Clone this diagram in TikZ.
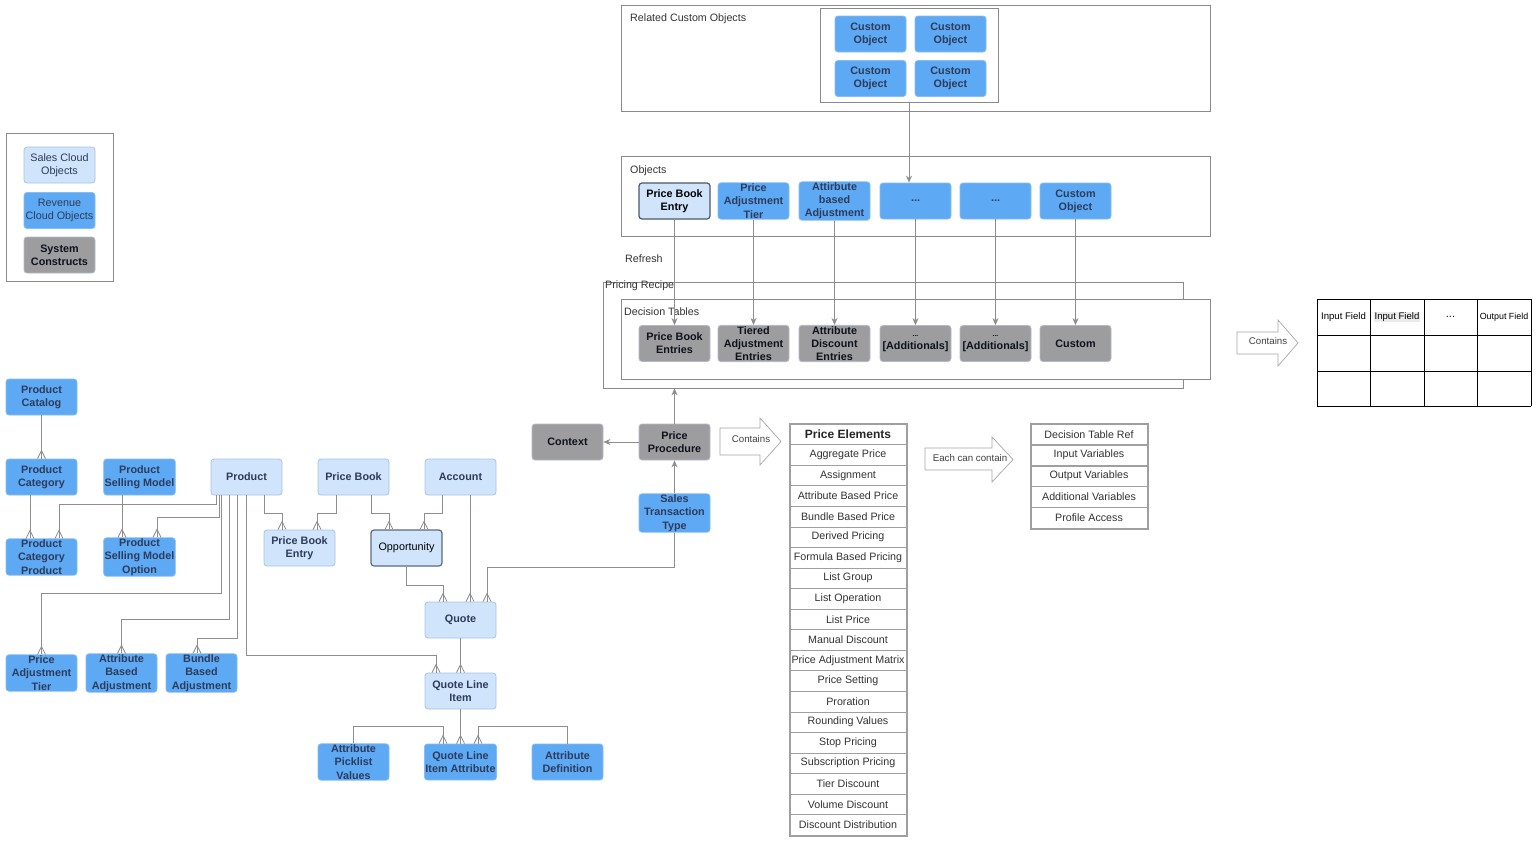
\documentclass[tikz,border=0pt]{standalone}
\usepackage{fontspec}
\setmainfont{Liberation Sans}
\usetikzlibrary{arrows.meta,positioning}

\definecolor{sclight}{HTML}{D0E4FB}
\definecolor{scedge}{HTML}{A6C4E8}
\definecolor{rcblue}{HTML}{5DA9F4}
\definecolor{rcedge}{HTML}{86BDF4}
\definecolor{sysgray}{HTML}{9D9D9F}
\definecolor{sysedge}{HTML}{B3BAC6}
\definecolor{boxtext}{HTML}{2E3B5B}
\definecolor{linegray}{HTML}{8E8E8E}
\definecolor{framegray}{HTML}{8A8A8A}

\tikzset{
  obj/.style={rounded corners=3pt, minimum width=71, minimum height=36, align=center, inner sep=1pt,
    text=boxtext, font=\fontsize{10.8}{13.2}\selectfont\bfseries, line width=0.8pt},
  sco/.style={obj, fill=sclight, draw=scedge},
  rco/.style={obj, fill=rcblue, draw=rcedge},
  sys/.style={obj, fill=sysgray, draw=sysedge, text=black!70!boxtext},
  panel/.style={draw=framegray, fill=white, line width=0.7pt},
  lbl/.style={anchor=north west, inner sep=0pt, text=black!80, font=\fontsize{10.7}{12}\selectfont},
  conn/.style={draw=linegray, line width=0.8pt},
  arr/.style={conn, -{Stealth[length=7pt,width=6pt]}},
  crow/.pic={\draw[conn] (-4,0) -- (0,-8) -- (4,0);},
  barrow/.style={draw=gray!70, fill=white, line width=0.7pt},
  btext/.style={inner sep=0pt, text=black!75, font=\fontsize{9.7}{11}\selectfont},
  cell/.style={draw=gray!75, minimum width=116, minimum height=20.55, inner sep=0pt,
    font=\fontsize{10.7}{12}\selectfont, text=black!80},
}

\begin{document}
\begin{tikzpicture}[x=1pt,y=-1pt]
\useasboundingbox[fill=white] (0,0) rectangle (1536,841);

% legend
\node[panel, minimum width=107, minimum height=148] (legend) at (59.5,207) {};
\node[sco, font=\fontsize{10.8}{13.2}\selectfont] (lsc) at (59.5,165) {Sales Cloud\\Objects};
\node[rco, font=\fontsize{10.8}{13.2}\selectfont] (lrc) at (59.5,210.5) {Revenue\\Cloud Objects};
\node[sys] (lsys) at (59.5,255) {System\\Constructs};

% related custom objects
\node[panel, minimum width=589, minimum height=106] (related) at (915.5,58) {};
\node[lbl] at (630,14) {Related Custom Objects};
\node[panel, minimum width=178, minimum height=94] (rcbox) at (909,55) {};
\node[rco] (co1) at (870.5,34) {Custom\\Object};
\node[rco] (co2) at (950.5,34) {Custom\\Object};
\node[rco] (co3) at (870.5,78.5) {Custom\\Object};
\node[rco] (co4) at (950.5,78.5) {Custom\\Object};

% objects
\node[panel, minimum width=589, minimum height=80] (objects) at (915.5,196) {};
\node[lbl] at (630,166) {Objects};
\node[sco, draw=black!55!scedge, line width=1.2pt, text=black] (ob1) at (674.5,201) {Price Book\\Entry};
\node[rco] (ob2) at (753.5,201) {Price\\Adjustment\\Tier};
\node[rco] (ob3) at (834.5,201) {Attirbute\\based\\Adjustment};
\node[rco] (ob4) at (915.5,201) {...};
\node[rco] (ob5) at (995.5,201) {...};
\node[rco] (ob6) at (1075.5,201) {Custom\\Object};

\node[lbl] at (625,255) {Refresh};

% pricing recipe
\node[panel, minimum width=580, minimum height=106] (recipe) at (893,335) {};
\node[lbl] at (605,281) {Pricing Recipe};
\node[panel, minimum width=589, minimum height=80] (dtables) at (915.5,339) {};
\node[lbl] at (624,308) {Decision Tables};
\node[sys] (dt1) at (674.5,343.5) {Price Book\\Entries};
\node[sys] (dt2) at (753.5,343.5) {Tiered\\Adjustment\\Entries};
\node[sys] (dt3) at (834.5,343.5) {Attribute\\Discount\\Entries};
\node[sys] (dt4) at (915.5,343.5) {{\fontsize{7}{8}\selectfont ...}\\{}[Additionals]};
\node[sys] (dt5) at (995.5,343.5) {{\fontsize{7}{8}\selectfont ...}\\{}[Additionals]};
\node[sys] (dt6) at (1075.5,343.5) {Custom};

% procedure
\node[sys] (ctx) at (567.5,442) {Context};
\node[sys] (pproc) at (674.5,442) {Price\\Procedure};
\node[rco] (stt) at (674.5,513) {Sales\\Transaction\\Type};

\draw[arr] (rcbox.south) -- (rcbox.south |- ob4.north);
\foreach \i in {1,...,6}
  \draw[arr] (ob\i.south) -- (dt\i.north);
\draw[arr] (pproc.north) -- (pproc.north |- recipe.south);
\draw[arr] (pproc.west) -- (ctx.east);
\draw[arr] (stt.north) -- (pproc.south);

% block arrows
\draw[barrow] (720,428) -- (760,428) -- (760,418) -- (781,441.5) -- (760,465) -- (760,455) -- (720,455) -- cycle;
\node[btext] (contains1) at (751,439) {Contains};
\draw[barrow] (925,448) -- (992,448) -- (992,437) -- (1013,459.5) -- (992,482) -- (992,470) -- (925,470) -- cycle;
\node[btext] (eachcan) at (970,458) {Each can contain};
\draw[barrow] (1237,332) -- (1278,332) -- (1278,320) -- (1298,343) -- (1278,366) -- (1278,354) -- (1237,354) -- cycle;
\node[btext] (contains2) at (1268,341) {Contains};

% price elements
\draw[draw=gray!75, line width=0.8pt] (789,423) rectangle (907,836);
\node[cell, font=\fontsize{12}{14}\selectfont\bfseries, text=black!85] (pe0) at (848,434.3) {Price Elements};
\foreach \t [count=\i] in {Aggregate Price, Assignment, Attribute Based Price, Bundle Based Price,
  Derived Pricing, Formula Based Pricing, List Group, List Operation, List Price, Manual Discount,
  Price Adjustment Matrix, Price Setting, Proration, Rounding Values, Stop Pricing,
  Subscription Pricing, Tier Discount, Volume Discount, Discount Distribution}
  \node[cell] (pe\i) at (848,{434.3+20.55*\i}) {\t};

% price element parts
\draw[draw=gray!75, line width=0.8pt] (1030,423) rectangle (1148,529);
\foreach \t [count=\i from 0] in {Decision Table Ref, Input Variables, Output Variables,
  Additional Variables, Profile Access}
  \node[cell] (part\i) at (1089,{434.4+20.8*\i}) {\t};

% decision table
\foreach \x in {1317,1370.5,1424,1477.5,1531}
  \draw[line width=0.8pt] (\x,299) -- (\x,406);
\foreach \y in {299,335,371,406}
  \draw[line width=0.8pt] (1317,\y) -- (1531,\y);
\node[btext, text=black, font=\fontsize{9.6}{11}\selectfont] (in1) at (1343.5,317) {Input Field};
\node[btext, text=black, font=\fontsize{9.6}{11}\selectfont, fill=black!8, inner sep=1pt] (in2) at (1397,317) {Input Field};
\node[btext, text=black, font=\fontsize{11}{12}\selectfont] (dots) at (1450.5,317) {...};
\node[btext, text=black, font=\fontsize{8.9}{10}\selectfont] (out) at (1504,317) {Output Field};

% data model
\node[rco] (pcat) at (41.5,397) {Product\\Catalog};
\node[rco] (pcatg) at (41.5,477) {Product\\Category};
\node[rco] (psm) at (139.5,477) {Product\\Selling Model};
\node[sco] (prod) at (246.5,477) {Product};
\node[sco] (pb) at (353.5,477) {Price Book};
\node[sco] (acc) at (460.5,477) {Account};
\node[rco] (pcp) at (41.5,557) {Product\\Category\\Product};
\node[rco] (psmo) at (139.5,557) {Product\\Selling Model\\Option};
\node[sco] (pbe) at (299.5,548) {Price Book\\Entry};
\node[sco, draw=black!45!scedge, line width=1.2pt, text=black, font=\fontsize{10.8}{13.2}\selectfont] (opp) at (406.5,548) {Opportunity};
\node[sco] (quote) at (460.5,620) {Quote};
\node[rco] (pat) at (41.5,673) {Price\\Adjustment\\Tier};
\node[rco] (aba) at (121.5,673) {Attribute\\Based\\Adjustment};
\node[rco] (bba) at (201.5,673) {Bundle\\Based\\Adjustment};
\node[sco] (qli) at (460.5,691) {Quote Line\\Item};
\node[rco] (apv) at (353.5,762) {Attribute\\Picklist\\Values};
\node[rco] (qlia) at (460.5,762) {Quote Line\\Item Attribute};
\node[rco] (adef) at (567.5,762) {Attribute\\Definition};

\draw[conn] (pcat.south) -- (pcatg.north) pic {crow};
\draw[conn] ([xshift=-11.5]pcatg.south) -- ([xshift=-11.5]pcp.north) pic {crow};
\draw[conn] ([xshift=-17.5]psm.south) -- ([xshift=-17.5]psmo.north) pic {crow};
\draw[conn] ([xshift=-30]prod.south) -- ++(0,9) -| ([xshift=17.5]pcp.north) pic {crow};
\draw[conn] ([xshift=-27.5]prod.south) -- ++(0,22) -| ([xshift=17.5]psmo.north) pic {crow};
\draw[conn] ([xshift=-25.5]prod.south) -- ++(0,98) -| (pat.north) pic {crow};
\draw[conn] ([xshift=-17.5]prod.south) -- ++(0,124) -| (aba.north) pic {crow};
\draw[conn] ([xshift=-9.5]prod.south) -- ++(0,143) -| ([xshift=-4.5]bba.north) pic {crow};
\draw[conn] (prod.south) -- ++(0,160) -| ([xshift=-24.5]qli.north) pic {crow};
\draw[conn] ([xshift=17.5]prod.south) -- ++(0,18) -| ([xshift=-17.5]pbe.north) pic {crow};
\draw[conn] ([xshift=-17.5]pb.south) -- ++(0,18) -| ([xshift=17.5]pbe.north) pic {crow};
\draw[conn] ([xshift=17.5]pb.south) -- ++(0,18) -| ([xshift=-17.5]opp.north) pic {crow};
\draw[conn] ([xshift=-18.5]acc.south) -- ++(0,18) -| ([xshift=17.5]opp.north) pic {crow};
\draw[conn] ([xshift=9.5]acc.south) -- ([xshift=9.5]quote.north) pic {crow};
\draw[conn] (opp.south) -- ++(0,19) -| ([xshift=-17.5]quote.north) pic {crow};
\draw[conn] (stt.south) -- ++(0,35) -| ([xshift=26.5]quote.north) pic {crow};
\draw[conn] (quote.south) -- (qli.north) pic {crow};
\draw[conn] (qli.south) -- (qlia.north) pic {crow};
\draw[conn] (apv.north) -- ++(0,-17) -| ([xshift=-17.5]qlia.north) pic {crow};
\draw[conn] (adef.north) -- ++(0,-17) -| ([xshift=17.5]qlia.north) pic {crow};

\end{tikzpicture}
\end{document}
